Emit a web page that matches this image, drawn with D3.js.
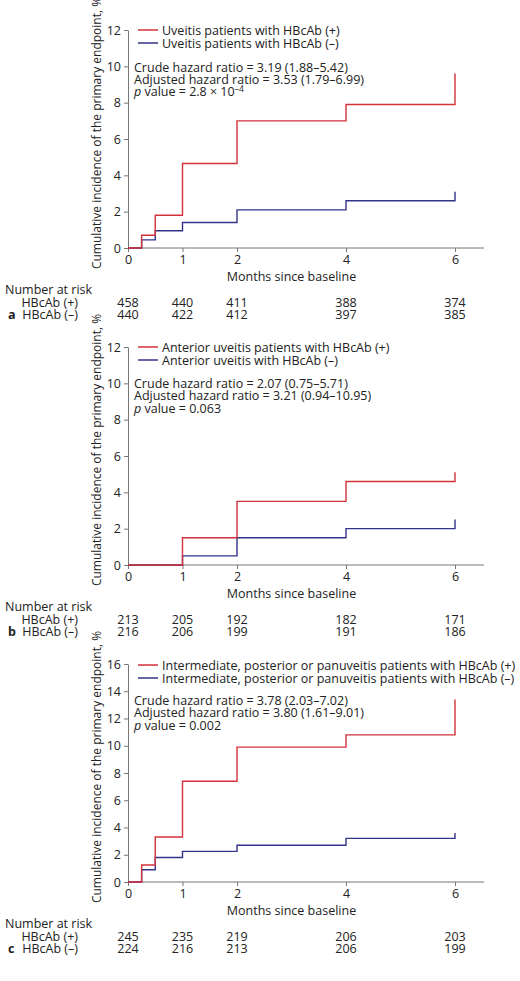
<!DOCTYPE html>
<html><head><meta charset="utf-8">
<script src="https://cdn.jsdelivr.net/npm/d3@7"></script>
<style>body{margin:0;background:#fff}text{font-family:"Open Sans",sans-serif;fill:#222}</style>
</head><body><script>
var width = 520, height = 981

var months = [0, 0.25, 0.5, 1, 2, 4, 6]
var riskTimes = [0, 1, 2, 4, 6]

var aPos = [0, 0.7, 1.8, 4.65, 7.0, 7.9, 9.6]
var aNeg = [0, 0.45, 0.95, 1.4, 2.1, 2.6, 3.1]
var aRiskPos = [458, 440, 411, 388, 374]
var aRiskNeg = [440, 422, 412, 397, 385]

var bPos = [0, 0, 0, 1.5, 3.5, 4.6, 5.1]
var bNeg = [0, 0, 0, 0.5, 1.5, 2.0, 2.5]
var bRiskPos = [213, 205, 192, 182, 171]
var bRiskNeg = [216, 206, 199, 191, 186]

var cPos = [0, 1.25, 3.3, 7.4, 9.9, 10.8, 13.4]
var cNeg = [0, 0.9, 1.8, 2.25, 2.7, 3.2, 3.6]
var cRiskPos = [245, 235, 219, 206, 203]
var cRiskNeg = [224, 216, 213, 206, 199]

var panels = [
  {letter: 'a', top: 30, bottom: 248, ymax: 12, pos: aPos, neg: aNeg, rp: aRiskPos, rn: aRiskNeg,
   legend: ['Uveitis patients with HBcAb (+)', 'Uveitis patients with HBcAb (\u2013)'],
   stats: ['Crude hazard ratio = 3.19 (1.88\u20135.42)', 'Adjusted hazard ratio = 3.53 (1.79\u20136.99)'],
   p: ' value = 2.8 \u00d7 10', sup: '\u20134', legY: 30, statY: 71.5},
  {letter: 'b', top: 347, bottom: 565, ymax: 12, pos: bPos, neg: bNeg, rp: bRiskPos, rn: bRiskNeg,
   legend: ['Anterior uveitis patients with HBcAb (+)', 'Anterior uveitis with HBcAb (\u2013)'],
   stats: ['Crude hazard ratio = 2.07 (0.75\u20135.71)', 'Adjusted hazard ratio = 3.21 (0.94\u201310.95)'],
   p: ' value = 0.063', sup: '', legY: 347, statY: 388},
  {letter: 'c', top: 664, bottom: 882, ymax: 16, pos: cPos, neg: cNeg, rp: cRiskPos, rn: cRiskNeg,
   legend: ['Intermediate, posterior or panuveitis patients with HBcAb (+)', 'Intermediate, posterior or panuveitis patients with HBcAb (\u2013)'],
   stats: ['Crude hazard ratio = 3.78 (2.03\u20137.02)', 'Adjusted hazard ratio = 3.80 (1.61\u20139.01)'],
   p: ' value = 0.002', sup: '', legY: 665, statY: 705}
]

var red = '#d2323a', blue = '#33338a'
var fs = '12.5px'

var svg = d3.select('body').append('svg')
  .attr('width', width)
  .attr('height', height)

var x = d3.scaleLinear().domain([0, 6]).range([128, 455])

panels.forEach(function (p) {
  var y = d3.scaleLinear().domain([0, p.ymax]).range([p.bottom, p.top])
  var g = svg.append('g')

  var xAxis = g.append('g')
    .attr('transform', 'translate(0,' + p.bottom + ')')
    .call(d3.axisBottom(x).tickValues(riskTimes).tickFormat(d3.format('d')).tickSize(4).tickSizeOuter(0))
  xAxis.select('.domain').attr('d', 'M128,0H484')
  g.append('g')
    .attr('transform', 'translate(128,0)')
    .call(d3.axisLeft(y).ticks(p.ymax / 2).tickFormat(d3.format('d')).tickSize(4).tickSizeOuter(0))
  g.selectAll('.domain, .tick line').attr('stroke', '#777').attr('stroke-width', 1)
  g.selectAll('.tick text').style('font-size', fs).style('font-family', '"Open Sans",sans-serif').attr('fill', '#222')

  g.append('text')
    .attr('transform', 'translate(101,' + ((p.top + p.bottom) / 2 - 6) + ') rotate(-90)')
    .attr('text-anchor', 'middle')
    .style('font-size', '12px')
    .text('Cumulative incidence of the primary endpoint, %')

  g.append('text')
    .attr('x', x(3)).attr('y', p.bottom + 33)
    .attr('text-anchor', 'middle')
    .style('font-size', fs)
    .text('Months since baseline')

  var line = d3.line()
    .curve(d3.curveStepAfter)
    .x(function (d) { return x(d[0]) })
    .y(function (d) { return y(d[1]) })
  ;[[p.neg, blue], [p.pos, red]].forEach(function (s) {
    // step curve to 6 months, then the last vertical jump
    var pts = months.slice(0, -1).map(function (m, i) { return [m, s[0][i]] }).concat([[6, s[0][5]]])
    g.append('path')
      .attr('d', line(pts) + 'L' + x(6) + ',' + y(s[0][6]))
      .attr('fill', 'none').attr('stroke', s[1]).attr('stroke-width', 1.4)
  })

  p.legend.forEach(function (t, i) {
    var ly = p.legY + i * 13
    g.append('line').attr('x1', 138).attr('x2', 158).attr('y1', ly).attr('y2', ly)
      .attr('stroke', i ? blue : red).attr('stroke-width', 1.5)
    g.append('text').attr('x', 162).attr('y', ly + 4.5).style('font-size', fs).text(t)
  })
  p.stats.forEach(function (t, i) {
    g.append('text').attr('x', 134).attr('y', p.statY + i * 12.3).style('font-size', fs).text(t)
  })
  var pt = g.append('text').attr('x', 134).attr('y', p.statY + 24.6).style('font-size', fs)
  pt.append('tspan').style('font-style', 'italic').text('p')
  pt.append('tspan').text(p.p)
  if (p.sup) pt.append('tspan').attr('dy', -4).style('font-size', '8.5px').text(p.sup)

  var ry = p.bottom + 46
  g.append('text').attr('x', 5).attr('y', ry).style('font-size', fs).text('Number at risk')
  g.append('text').attr('x', 78).attr('y', ry + 12.5).attr('text-anchor', 'end').style('font-size', fs).text('HBcAb (+)')
  g.append('text').attr('x', 78).attr('y', ry + 25).attr('text-anchor', 'end').style('font-size', fs).text('HBcAb (\u2013)')
  g.append('text').attr('x', 8).attr('y', ry + 25).style('font-size', '12.5px').style('font-weight', 'bold').text(p.letter)
  ;[p.rp, p.rn].forEach(function (row, k) {
    g.selectAll(null).data(row).enter().append('text')
      .attr('x', function (d, i) { return x(riskTimes[i]) })
      .attr('y', ry + 12.5 * (k + 1))
      .attr('text-anchor', 'middle')
      .style('font-size', fs)
      .text(function (d) { return d })
  })
})
</script></body></html>
